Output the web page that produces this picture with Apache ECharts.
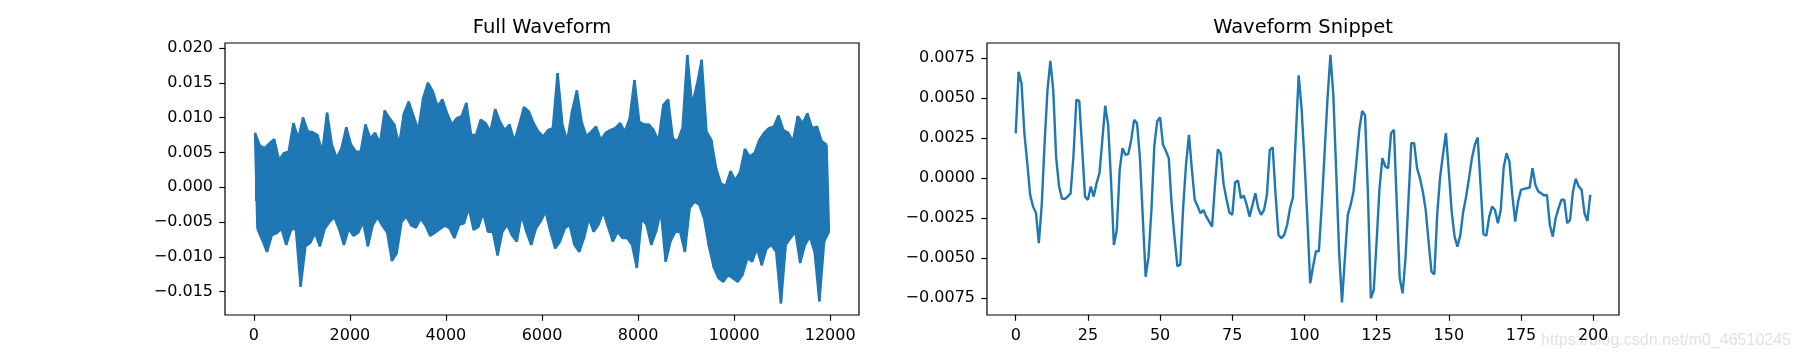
<!DOCTYPE html>
<html>
<head>
<meta charset="utf-8">
<script src="https://cdn.jsdelivr.net/npm/echarts@6/dist/echarts.min.js"></script>
<style>
html,body{margin:0;padding:0;background:#fff;}
#chart{width:1800px;height:360px;}
</style>
</head>
<body>
<div id="chart"></div>
<script>
// ---------------- DATA ----------------
const titles = ['Full Waveform', 'Waveform Snippet'];

// Full waveform (12000 samples) summarised as per-100-sample envelope
const fullBinSize = 100;
const fullHi = [
  0.0078, 0.0060, 0.0056, 0.0063, 0.0069, 0.0039, 0.0049, 0.0051, 0.0092, 0.0070,
  0.0100, 0.0080, 0.0079, 0.0075, 0.0051, 0.0107, 0.0061, 0.0042, 0.0056, 0.0086,
  0.0061, 0.0051, 0.0051, 0.0090, 0.0070, 0.0078, 0.0063, 0.0110, 0.0099, 0.0090,
  0.0061, 0.0106, 0.0123, 0.0102, 0.0082, 0.0128, 0.0150, 0.0138, 0.0116, 0.0126,
  0.0106, 0.0090, 0.0099, 0.0102, 0.0121, 0.0075, 0.0075, 0.0097, 0.0092, 0.0080,
  0.0112, 0.0094, 0.0082, 0.0090, 0.0066, 0.0090, 0.0115, 0.0109, 0.0092, 0.0080,
  0.0073, 0.0082, 0.0085, 0.0164, 0.0090, 0.0066, 0.0109, 0.0139, 0.0094, 0.0073,
  0.0080, 0.0087, 0.0068, 0.0078, 0.0082, 0.0085, 0.0092, 0.0080, 0.0099, 0.0154,
  0.0094, 0.0090, 0.0090, 0.0082, 0.0066, 0.0118, 0.0126, 0.0070, 0.0066, 0.0085,
  0.0190, 0.0118, 0.0147, 0.0183, 0.0080, 0.0068, 0.0027, 0.0005, 0.0002, 0.0023,
  0.0010, 0.0022, 0.0055, 0.0044, 0.0049, 0.0068, 0.0078, 0.0085, 0.0087, 0.0103,
  0.0082, 0.0078, 0.0066, 0.0102, 0.0092, 0.0106, 0.0085, 0.0087, 0.0066, 0.0061
];
const fullLo = [
  -0.0060, -0.0076, -0.0093, -0.0069, -0.0066, -0.0060, -0.0083, -0.0061, -0.0060, -0.0143,
  -0.0085, -0.0080, -0.0066, -0.0085, -0.0060, -0.0050, -0.0043, -0.0060, -0.0083, -0.0060,
  -0.0070, -0.0065, -0.0050, -0.0085, -0.0055, -0.0043, -0.0055, -0.0065, -0.0106, -0.0095,
  -0.0050, -0.0042, -0.0055, -0.0058, -0.0045, -0.0055, -0.0070, -0.0065, -0.0060, -0.0055,
  -0.0059, -0.0073, -0.0054, -0.0052, -0.0030, -0.0061, -0.0057, -0.0037, -0.0064, -0.0064,
  -0.0098, -0.0064, -0.0054, -0.0069, -0.0078, -0.0040, -0.0064, -0.0083, -0.0059, -0.0049,
  -0.0035, -0.0064, -0.0088, -0.0078, -0.0059, -0.0054, -0.0083, -0.0093, -0.0073, -0.0045,
  -0.0064, -0.0054, -0.0035, -0.0057, -0.0078, -0.0064, -0.0073, -0.0073, -0.0083, -0.0116,
  -0.0045, -0.0054, -0.0083, -0.0064, -0.0035, -0.0107, -0.0078, -0.0064, -0.0064, -0.0093,
  -0.0030, -0.0021, -0.0025, -0.0045, -0.0085, -0.0115, -0.0131, -0.0136, -0.0126, -0.0131,
  -0.0136, -0.0126, -0.0102, -0.0107, -0.0088, -0.0112, -0.0088, -0.0083, -0.0093, -0.0167,
  -0.0083, -0.0073, -0.0064, -0.0109, -0.0083, -0.0071, -0.0093, -0.0164, -0.0078, -0.0064
];

// Snippet: first 200 samples
const snippetValues = [
  0.00281, 0.00664, 0.00593, 0.00280, 0.00094, -0.00104, -0.00177, -0.00215, -0.00405, -0.00170,
  0.00220, 0.00550, 0.00733, 0.00550, 0.00130, -0.00050, -0.00127, -0.00130, -0.00115, -0.00095,
  0.00140, 0.00489, 0.00484, 0.00190, -0.00115, -0.00135, -0.00052, -0.00115, -0.00031, 0.00031,
  0.00239, 0.00452, 0.00333, -0.00010, -0.00417, -0.00323, 0.00052, 0.00187, 0.00146, 0.00152,
  0.00239, 0.00364, 0.00344, 0.00135, -0.00240, -0.00615, -0.00490, -0.00200, 0.00200, 0.00356,
  0.00380, 0.00210, 0.00170, 0.00125, -0.00160, -0.00370, -0.00550, -0.00540, -0.00180, 0.00090,
  0.00271, 0.00058, -0.00135, -0.00175, -0.00219, -0.00198, -0.00240, -0.00271, -0.00302, -0.00047,
  0.00180, 0.00155, -0.00037, -0.00130, -0.00214, -0.00229, -0.00026, -0.00015, -0.00125, -0.00108,
  -0.00167, -0.00240, -0.00167, -0.00094, -0.00188, -0.00229, -0.00198, -0.00104, 0.00177, 0.00192,
  -0.00104, -0.00354, -0.00375, -0.00354, -0.00292, -0.00188, -0.00120, 0.00260, 0.00642, 0.00438,
  0.00115, -0.00250, -0.00656, -0.00550, -0.00456, -0.00456, -0.00167, 0.00167, 0.00500, 0.00770,
  0.00520, 0.00042, -0.00458, -0.00775, -0.00500, -0.00229, -0.00167, -0.00083, 0.00104, 0.00302,
  0.00420, 0.00392, -0.00104, -0.00750, -0.00698, -0.00396, -0.00063, 0.00125, 0.00073, 0.00063,
  0.00281, 0.00302, -0.00167, -0.00625, -0.00719, -0.00500, -0.00146, 0.00219, 0.00219, 0.00063,
  0.00000, -0.00083, -0.00198, -0.00396, -0.00583, -0.00600, -0.00220, 0.00010, 0.00150, 0.00281,
  0.00042, -0.00208, -0.00365, -0.00427, -0.00354, -0.00208, -0.00115, 0.00000, 0.00125, 0.00208,
  0.00254, -0.00042, -0.00350, -0.00358, -0.00240, -0.00177, -0.00198, -0.00281, -0.00198, 0.00067,
  0.00156, 0.00104, -0.00104, -0.00271, -0.00146, -0.00073, -0.00067, -0.00063, -0.00058, 0.00063,
  -0.00042, -0.00083, -0.00094, -0.00108, -0.00104, -0.00292, -0.00365, -0.00250, -0.00188, -0.00135,
  -0.00135, -0.00281, -0.00260, -0.00083, -0.00004, -0.00052, -0.00073, -0.00219, -0.00267, -0.00104
];

// Tick values and labels
const fullXTicks = [0, 2000, 4000, 6000, 8000, 10000, 12000];
const fullXLabels = ['0', '2000', '4000', '6000', '8000', '10000', '12000'];
const fullYTicks = [-0.015, -0.010, -0.005, 0.000, 0.005, 0.010, 0.015, 0.020];
const fullYLabels = ['\u22120.015', '\u22120.010', '\u22120.005', '0.000', '0.005', '0.010', '0.015', '0.020'];
const snipXTicks = [0, 25, 50, 75, 100, 125, 150, 175, 200];
const snipXLabels = ['0', '25', '50', '75', '100', '125', '150', '175', '200'];
const snipYTicks = [-0.0075, -0.0050, -0.0025, 0.0000, 0.0025, 0.0050, 0.0075];
const snipYLabels = ['\u22120.0075', '\u22120.0050', '\u22120.0025', '0.0000', '0.0025', '0.0050', '0.0075'];

const watermark = 'https://blog.csdn.net/m0_46510245';

// ---------------- BUILD ----------------
function labelFor(ticks, labels) {
  return function (v) {
    let best = 0, bd = Infinity;
    for (let i = 0; i < ticks.length; i++) {
      const d = Math.abs(ticks[i] - v);
      if (d < bd) { bd = d; best = i; }
    }
    return labels[best];
  };
}

const fullHiData = fullHi.map((v, k) => [k * fullBinSize + 25, v]);
const fullLoData = fullLo.map((v, k) => [k * fullBinSize + 75, v]);
const fullZig = [];
for (let k = 0; k < fullHi.length; k++) {
  fullZig.push(fullHiData[k]);
  fullZig.push(fullLoData[k]);
}
const snipData = snippetValues.map((v, i) => [i, v]);

const FONT = 'DejaVu Sans';
const FS = 16;
const lineColor = '#1f77b4';
const LW = 2.4;

function xAxis(gridIndex, min, max, ticks, labels) {
  return {
    type: 'value', gridIndex, min, max,
    splitLine: { show: false },
    axisLine: { show: false, onZero: false },
    axisTick: { show: true, length: 5.7, inside: false, customValues: ticks,
      lineStyle: { color: '#000', width: 1.2 } },
    axisLabel: { show: true, customValues: ticks, margin: 13,
      formatter: labelFor(ticks, labels),
      color: '#000', fontFamily: FONT, fontSize: FS }
  };
}
function yAxis(gridIndex, min, max, ticks, labels) {
  return {
    type: 'value', gridIndex, min, max,
    splitLine: { show: false },
    axisLine: { show: false, onZero: false },
    axisTick: { show: true, length: 5.7, inside: false, customValues: ticks,
      lineStyle: { color: '#000', width: 1.2 } },
    axisLabel: { show: true, customValues: ticks, margin: 12,
      formatter: labelFor(ticks, labels),
      color: '#000', fontFamily: FONT, fontSize: FS }
  };
}

const chart = echarts.init(document.getElementById('chart'), null, { renderer: 'canvas' });
chart.setOption({
  animation: false,
  backgroundColor: '#fff',
  grid: [
    { left: 225, top: 43, width: 634, height: 272, show: true, borderColor: '#000', borderWidth: 1.2, backgroundColor: 'transparent' },
    { left: 987, top: 43, width: 632, height: 272, show: true, borderColor: '#000', borderWidth: 1.2, backgroundColor: 'transparent' }
  ],
  xAxis: [
    xAxis(0, -600, 12600, fullXTicks, fullXLabels),
    xAxis(1, -9.95, 208.95, snipXTicks, snipXLabels)
  ],
  yAxis: [
    yAxis(0, -0.01837, 0.02072, fullYTicks, fullYLabels),
    yAxis(1, -0.00854, 0.00844, snipYTicks, snipYLabels)
  ],
  series: [
    { type: 'line', xAxisIndex: 0, yAxisIndex: 0, data: fullHiData, showSymbol: false, silent: true,
      lineStyle: { color: lineColor, width: LW }, itemStyle: { color: lineColor },
      areaStyle: { color: lineColor, opacity: 1, origin: -0.002 } },
    { type: 'line', xAxisIndex: 0, yAxisIndex: 0, data: fullLoData, showSymbol: false, silent: true,
      lineStyle: { color: lineColor, width: LW }, itemStyle: { color: lineColor },
      areaStyle: { color: lineColor, opacity: 1, origin: 0 } },
    { type: 'line', xAxisIndex: 0, yAxisIndex: 0, data: fullZig, showSymbol: false, silent: true,
      lineStyle: { color: lineColor, width: LW }, itemStyle: { color: lineColor } },
    { type: 'line', xAxisIndex: 1, yAxisIndex: 1, data: snipData, showSymbol: false, silent: true,
      lineStyle: { color: lineColor, width: LW }, itemStyle: { color: lineColor } }
  ],
  graphic: [
    { type: 'text', x: 542, y: 28, style: { text: titles[0], textAlign: 'center', textVerticalAlign: 'middle',
      font: '19.5px "DejaVu Sans"', fill: '#000' } },
    { type: 'text', x: 1303, y: 28, style: { text: titles[1], textAlign: 'center', textVerticalAlign: 'middle',
      font: '19.5px "DejaVu Sans"', fill: '#000' } },
    { type: 'text', x: 1791, y: 341, style: { text: watermark, textAlign: 'right', textVerticalAlign: 'middle',
      font: '16px "Liberation Sans"', fill: '#e2e2e2' } }
  ]
});
</script>
</body>
</html>
